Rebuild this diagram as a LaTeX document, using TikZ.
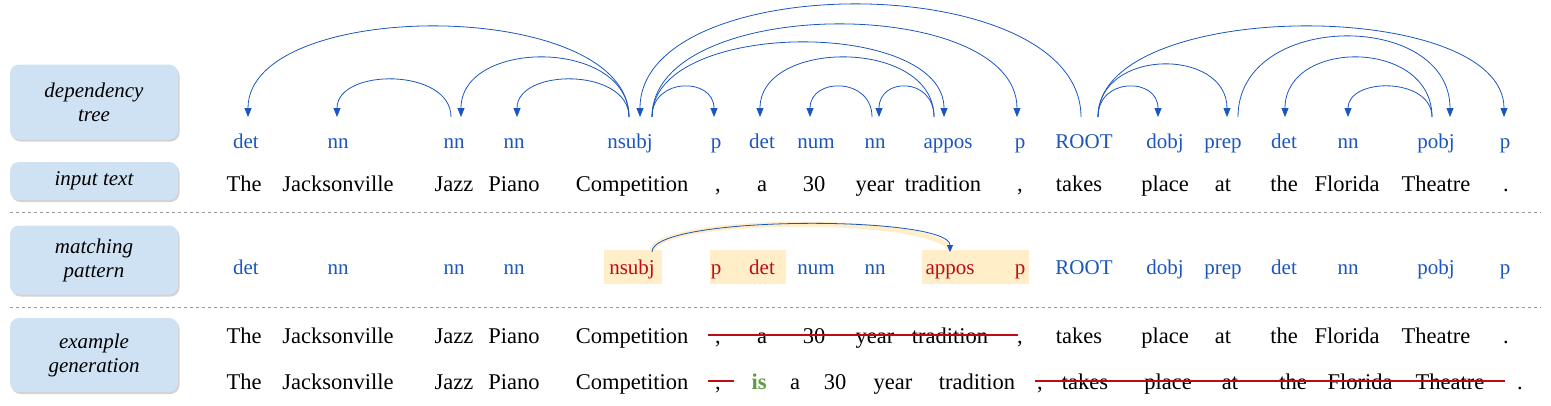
\documentclass[tikz,border=0pt]{standalone}
\usepackage{fontspec}
\setmainfont{Liberation Serif}
\usetikzlibrary{arrows.meta,shadows}
\definecolor{lblue}{RGB}{26,86,190}
\definecolor{boxblue}{RGB}{207,226,243}
\definecolor{hlred}{RGB}{192,10,20}
\definecolor{hlyel}{RGB}{255,238,200}
\definecolor{gr}{RGB}{94,156,66}
\newcommand{\deparc}[3]{\pgfmathsetmacro\cc{117-(117-#3)/0.75}\draw[arcst] (#1) .. controls ($(#1)+(0,\cc-117)$) and ($(#2)+(0,\cc-117)$) .. (#2);}
\usetikzlibrary{calc}
\begin{document}
\begin{tikzpicture}[x=1pt,y=-1pt,
  lbox/.style={fill=boxblue,rounded corners=9pt,minimum width=168pt,align=center,
     font=\fontsize{21}{24}\selectfont\itshape,inner sep=2pt,
     drop shadow={opacity=0.35,shadow xshift=1.5pt,shadow yshift=-2pt}},
  wd/.style={font=\fontsize{22.5}{24}\selectfont,inner sep=0pt,anchor=base},
  lb/.style={font=\fontsize{21}{24}\selectfont,text=lblue,inner sep=0pt,anchor=base},
  rl/.style={lb,text=hlred},
  arcst/.style={draw=lblue,line width=0.8pt,-{Triangle[width=7pt,length=9pt]}},
  sep/.style={draw=gray!80,dashed,line width=0.8pt},
  strike/.style={draw=hlred,line width=2.6pt}]
\useasboundingbox (0,0) rectangle (1551,405);
% left boxes
\node[lbox,minimum height=75pt] (b1) at (94,102) {dependency\\tree};
\node[lbox,minimum height=38pt] (b2) at (94,181) {input text};
\node[lbox,minimum height=69pt] (b3) at (94,260) {matching\\pattern};
\node[lbox,minimum height=74pt] (b4) at (94,355) {example\\generation};
% separators
\coordinate (s1a) at (10,212); \coordinate (s1b) at (1541,212);
\coordinate (s2a) at (10,307); \coordinate (s2b) at (1541,307);
\draw[sep] (s1a) -- (s1b);
\draw[sep] (s2a) -- (s2b);
% row 1 labels
\foreach \x/\t [count=\i] in {246/det,338/nn,454/nn,514/nn,630/nsubj,716/p,762/det,816/num,875/nn,948/appos,1020/p,1084/ROOT,1165/dobj,1223/prep,1284/det,1348/nn,1436/pobj,1505/p}
  \node[lb] (L\i) at (\x,148) {\t};
% row 2 words
\foreach \x/\t [count=\i] in {244/The,338/Jacksonville,454/Jazz,514/Piano,632/Competition,718/{,},762/a,814/30,875/year,943/tradition,1020/{,},1079/takes,1165/place,1223/at,1284/the,1347/Florida,1436/Theatre,1506/.}
  \node[wd] (W\i) at (\x,191) {\t};
% arc endpoints
\foreach \n/\x in {det1/248,nnA/337,nnBs/451,nnB/461,nnC/517,nsL/629,nsA/640,nsR/652,pA/714,detB/760,numA/810,nnDs/872,nnD/879,apA/944,apS/934,pB/1017,rootS/1081,rootR/1098,dobjA/1158,prepA/1227,prepS/1238,detC/1285,nnE/1348,pobjS/1432,pobjA/1450,pC/1504}
  \coordinate (\n) at (\x,117);
\deparc{nsL}{det1}{27}
\deparc{nnBs}{nnA}{80}
\deparc{nsL}{nnB}{58}
\deparc{nsL}{nnC}{80}
\deparc{nsR}{pA}{87}
\deparc{rootS}{nsA}{5}
\deparc{nsR}{pB}{25}
\deparc{nsR}{apA}{43}
\deparc{apS}{detB}{58}
\deparc{nnDs}{numA}{87}
\deparc{apS}{nnD}{87}
\deparc{rootR}{pC}{27}
\deparc{rootR}{prepA}{65}
\deparc{rootR}{dobjA}{87}
\deparc{prepS}{pobjA}{37}
\deparc{pobjS}{detC}{58}
\deparc{pobjS}{nnE}{87}
% row 3 highlights
\fill[hlyel] (604,250) rectangle (662,284);
\fill[hlyel] (710,250) rectangle (786,284);
\fill[hlyel] (922,250) rectangle (1029,284);
\foreach \x/\t/\s [count=\i] in {246/det/lb,338/nn/lb,454/nn/lb,514/nn/lb,632/nsubj/rl,716/p/rl,762/det/rl,816/num/lb,875/nn/lb,950/appos/rl,1020/p/rl,1084/ROOT/lb,1165/dobj/lb,1223/prep/lb,1284/det/lb,1348/nn/lb,1436/pobj/lb,1505/p/lb}
  \node[\s] (M\i) at (\x,274) {\t};
\coordinate (mA) at (652,252); \coordinate (mB) at (950,252);
\draw[hlyel,line width=5pt] (mA) .. controls (652,215) and (950,215) .. (mB);
\draw[arcst,-{Triangle[width=6pt,length=7pt]}] (mA) .. controls (652,215) and (950,215) .. (mB);
% row 4
\foreach \x/\t [count=\i] in {244/The,338/Jacksonville,454/Jazz,514/Piano,632/Competition,718/{,},762/a,814/30,875/year,950/tradition,1020/{,},1079/takes,1165/place,1223/at,1284/the,1347/Florida,1436/Theatre,1506/.}
  \node[wd] (R\i) at (\x,343) {\t};
\coordinate (k1) at (708,335); \coordinate (k2) at (1018,335);
\draw[strike] (k1) -- (k2);
% row 5
\foreach \x/\t [count=\i] in {244/The,338/Jacksonville,454/Jazz,514/Piano,632/Competition,718/{,},795/a,835/30,893/year,977/tradition,1040/{,},1085/takes,1168/place,1230/at,1293/the,1360/Florida,1450/Theatre,1520/.}
  \node[wd] (G\i) at (\x,389) {\t};
\node[wd,text=gr,font=\fontsize{22.5}{24}\selectfont\bfseries] (is) at (759,389) {is};
\coordinate (k3) at (708,381); \coordinate (k4) at (734,381);
\coordinate (k5) at (1035,381); \coordinate (k6) at (1505,381);
\draw[strike] (k3) -- (k4);
\draw[strike] (k5) -- (k6);
\end{tikzpicture}
\end{document}
